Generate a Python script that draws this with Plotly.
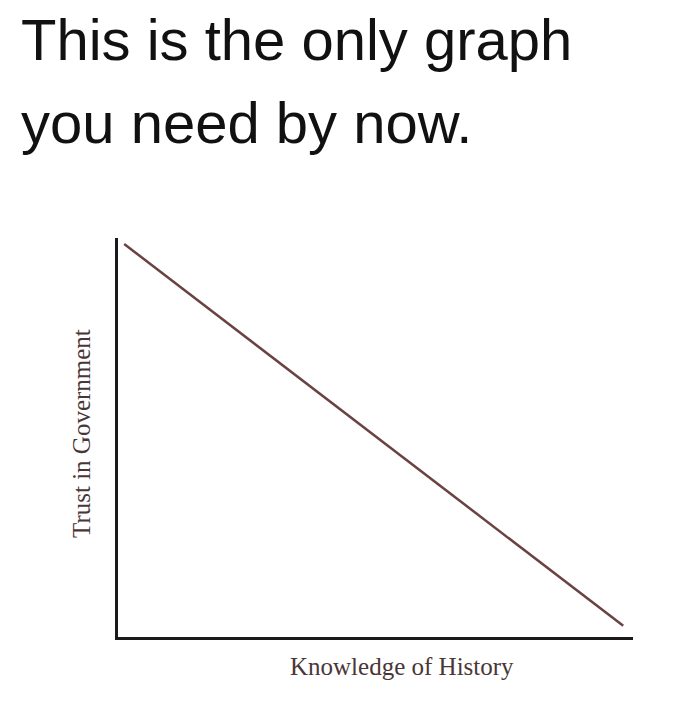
import plotly.graph_objects as go

# values (0..1 scale, no ticks shown)
knowledge = [0.012, 0.981]
trust = [0.985, 0.028]

title_lines = ["This is the only graph", "you need by now."]
x_label = "Knowledge of History"
y_label = "Trust in Government"

W, H = 700, 717
# page body has an 8px margin, so everything is laid out 8px up/left
OFF = 8
L, R, T, B = 110, 75, 230, 88
plot_w = W - L - R
plot_h = H - T - B


def px(x_win):
    # window column -> paper coordinate
    return (x_win - OFF - L) / plot_w


def py(y_win):
    # window row -> paper coordinate
    return (H - B - (y_win - OFF)) / plot_h


fig = go.Figure()
fig.add_trace(go.Scatter(
    x=knowledge, y=trust,
    mode="lines",
    line=dict(color="#6a4242", width=2.5),
    hoverinfo="skip",
    showlegend=False
))

axis_common = dict(
    range=[0, 1],
    showgrid=False,
    zeroline=False,
    showticklabels=False,
    ticks="",
    showline=True,
    linecolor="#1a1a1a",
    linewidth=3,
    fixedrange=True
)

title_font = dict(family="Liberation Sans, Arial", size=58, color="#111111")
label_font = dict(family="Liberation Serif, serif", size=25, color="#4a3636")

fig.update_layout(
    width=W, height=H,
    margin=dict(l=L, r=R, t=T, b=B),
    paper_bgcolor="white",
    plot_bgcolor="white",
    xaxis=axis_common,
    yaxis=axis_common,
    annotations=[
        dict(text=title_lines[0], xref="paper", yref="paper",
             x=px(19), y=py(39), xanchor="left", yanchor="middle",
             showarrow=False, font=title_font),
        dict(text=title_lines[1], xref="paper", yref="paper",
             x=px(19), y=py(122), xanchor="left", yanchor="middle",
             showarrow=False, font=title_font),
        dict(text=x_label, xref="paper", yref="paper",
             x=px(402), y=py(666), xanchor="center", yanchor="middle",
             showarrow=False, font=label_font),
        dict(text=y_label, xref="paper", yref="paper",
             x=px(81), y=py(434), xanchor="center", yanchor="middle",
             textangle=-90, showarrow=False, font=label_font),
    ]
)

fig.write_html("out.html")
